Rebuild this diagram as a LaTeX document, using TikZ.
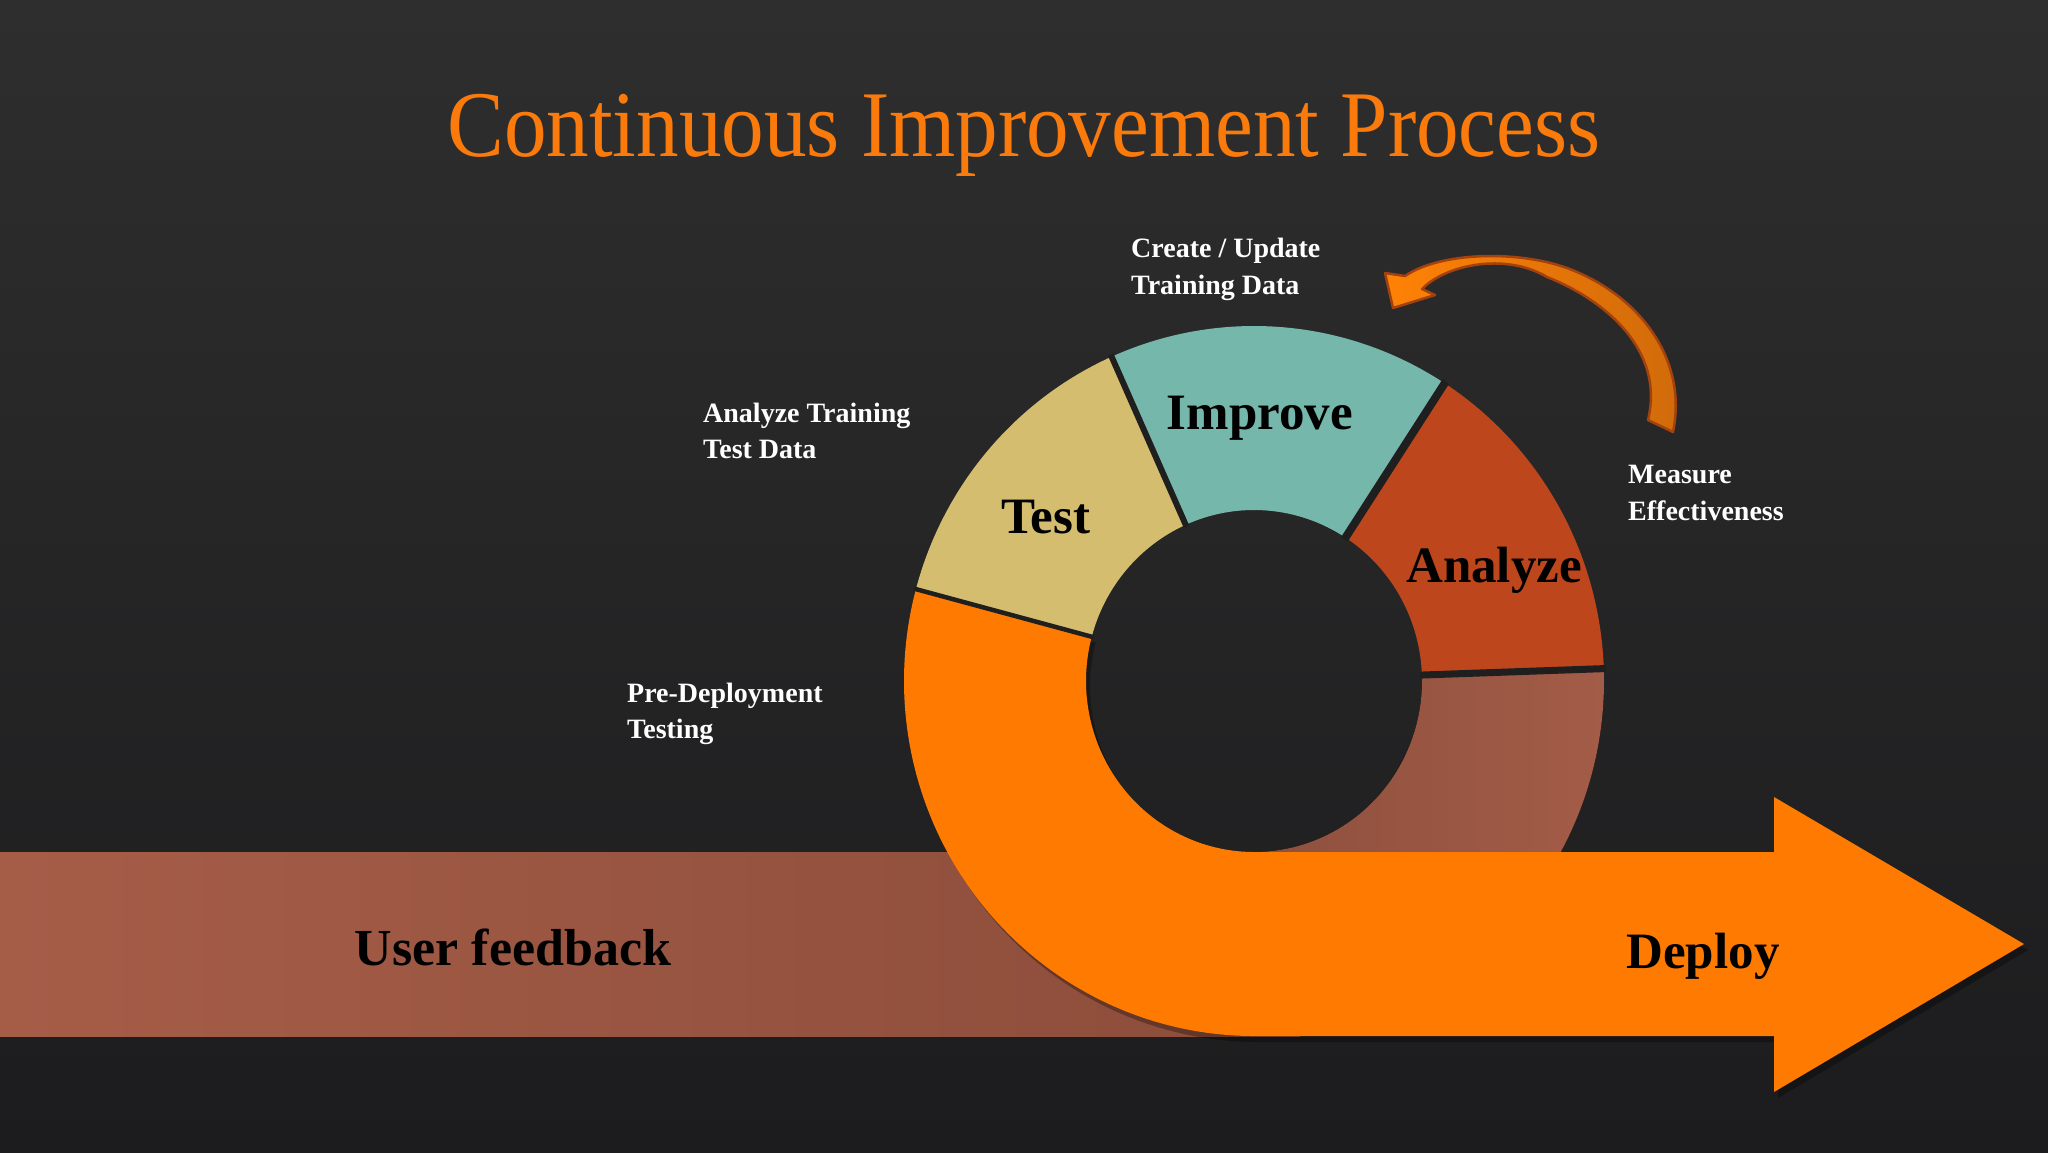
\documentclass[tikz,border=0pt]{standalone}
\usepackage{fontspec}
\usepackage{graphicx}
\setmainfont{Liberation Serif}
\usetikzlibrary{calc}
\definecolor{bgtop}{HTML}{2E2E2E}
\definecolor{bgbot}{HTML}{1C1C1E}
\definecolor{orangeM}{HTML}{FF7A00}
\definecolor{tealC}{HTML}{76B7AC}
\definecolor{sandC}{HTML}{D4BD6E}
\definecolor{rustC}{HTML}{BD461D}
\definecolor{gapC}{HTML}{1F1F1F}
\definecolor{bandL}{HTML}{A65D48}
\definecolor{bandR}{HTML}{8B4D3A}
\definecolor{brL}{HTML}{8E503E}
\definecolor{brR}{HTML}{A35C47}
\definecolor{titleC}{HTML}{FA7A0C}
\definecolor{arrHead}{HTML}{FF8205}
\definecolor{arrTail}{HTML}{CF6A0A}
\definecolor{arrEdge}{HTML}{A3420F}
\begin{document}
\begin{tikzpicture}[x=1pt,y=-1pt,
  gap/.style={draw=gapC,line width=6pt},
  big/.style={font=\bfseries\fontsize{51}{51}\selectfont,text=black,inner sep=0pt,anchor=base},
  lbl/.style={font=\bfseries\fontsize{28}{28}\selectfont,text=white,inner sep=0pt,anchor=base west}]
\useasboundingbox (0,0) rectangle (2048,1152);
\fill[top color=bgtop,bottom color=bgbot] (0,0) rectangle (2048,1152);
\coordinate (C) at (1254,681);

% user feedback band
\fill[left color=bandL,right color=bandR] (0,852) rectangle (1300,1036);

% brown lower-right ring segment
\fill[left color=brL,right color=brR]
  ($(C)+(-2:350 and 355)$) arc[start angle=-2,end angle=90,x radius=350,y radius=355]
  -- ($(C)+(90:168 and 171)$) arc[start angle=90,end angle=-2,x radius=168,y radius=171] -- cycle;

% orange U and arrow
\path[fill=orangeM,preaction={fill=black,opacity=0.3,transform canvas={shift={(4,6)}}}]
  ($(C)+(-165:350 and 355)$) arc[start angle=-165,end angle=-270,x radius=350,y radius=355]
  -- (1774,1036) -- (1774,1092) -- (2024,944) -- (1774,797) -- (1774,852)
  -- ($(C)+(-270:168 and 171)$) arc[start angle=-270,end angle=-165,x radius=168,y radius=171] -- cycle;

% Test
\fill[sandC]
  ($(C)+(-114:350 and 355)$) arc[start angle=-114,end angle=-165,x radius=350,y radius=355]
  -- ($(C)+(-165:168 and 171)$) arc[start angle=-165,end angle=-114,x radius=168,y radius=171] -- cycle;
% Improve
\fill[tealC]
  ($(C)+(-57:350 and 355)$) arc[start angle=-57,end angle=-114,x radius=350,y radius=355]
  -- ($(C)+(-114:168 and 171)$) arc[start angle=-114,end angle=-57,x radius=168,y radius=171] -- cycle;
% Analyze
\fill[rustC]
  ($(C)+(-2:350 and 355)$) arc[start angle=-2,end angle=-57,x radius=350,y radius=355]
  -- ($(C)+(-57:168 and 171)$) arc[start angle=-57,end angle=-2,x radius=168,y radius=171] -- cycle;

% dividing gaps
\foreach \a/\w in {-165/4.5,-114/6,-57/8,-2/7}
  \draw[gap,line width=\w pt] ($(C)+(\a:166 and 169)$) -- ($(C)+(\a:352 and 357)$);

% curved arrow
\path[left color=arrHead,right color=arrTail,draw=arrEdge,line width=2.5pt,line join=round]
  (1648,420) -- (1673,432)
  .. controls (1688,360) and (1640,295) .. (1567,268)
  .. controls (1517,250) and (1440,252) .. (1405,276)
  -- (1385,273) -- (1393,308) -- (1435,295) -- (1422,289)
  .. controls (1445,265) and (1505,252) .. (1547,277)
  .. controls (1605,300) and (1665,350) .. (1648,420) -- cycle;

% texts
\node[anchor=base,text=titleC,font=\fontsize{94}{94}\selectfont,inner sep=0pt] (title) at (1024,156)
  {\scalebox{0.905}[1]{Continuous Improvement Process}};
\node[big] (improve) at (1260,429) {Improve};
\node[big] (test) at (1046,533) {Test};
\node[big] (analyze) at (1494,582) {Analyze};
\node[big,font=\bfseries\fontsize{52}{52}\selectfont] (feedback) at (513,965) {User feedback};
\node[big] (deploy) at (1703,968) {Deploy};

\node[lbl] (cu1) at (1131,257) {Create / Update};
\node[lbl] (cu2) at (1131,294) {Training Data};
\node[lbl] (at1) at (703,422) {Analyze Training};
\node[lbl] (at2) at (703,458) {Test Data};
\node[lbl] (pd1) at (627,702) {Pre-Deployment};
\node[lbl] (pd2) at (627,738) {Testing};
\node[lbl] (me1) at (1628,483) {Measure};
\node[lbl] (me2) at (1628,520) {Effectiveness};
\end{tikzpicture}
\end{document}
